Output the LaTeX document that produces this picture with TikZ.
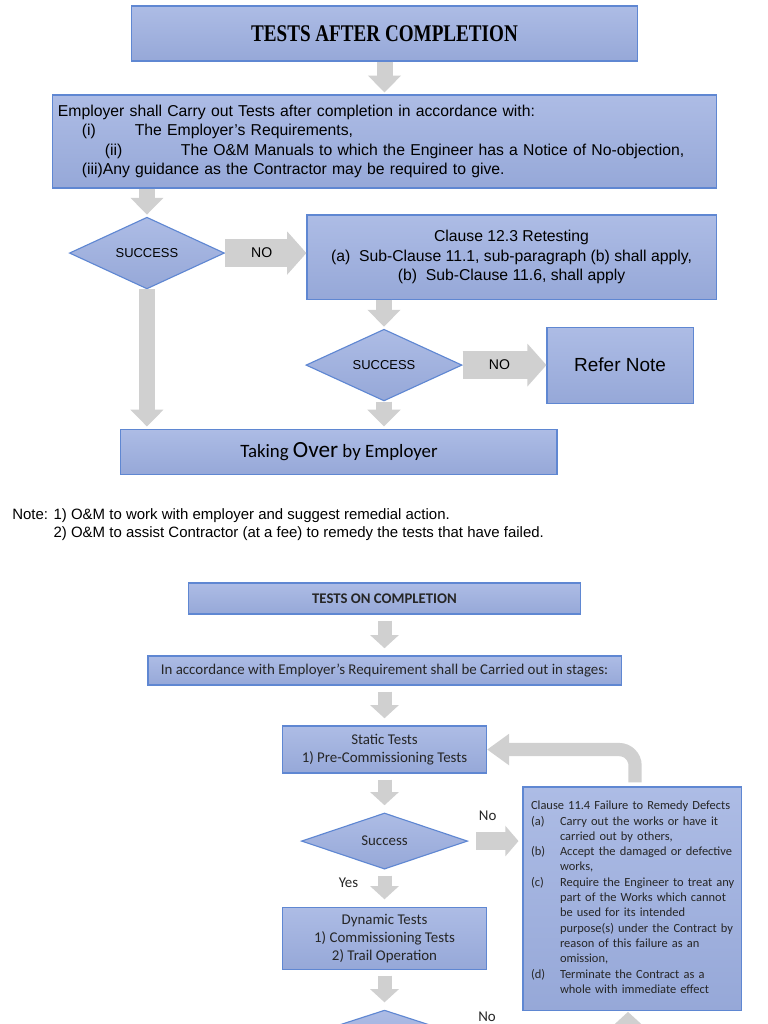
\documentclass[tikz,border=0pt]{standalone}
\usepackage{fontspec}
\setmainfont{Liberation Sans}
\newfontfamily\calib{Carlito}
\newfontfamily\titlefont[FakeStretch=0.8]{Liberation Serif}
\usepackage{xcolor}
\usepackage{tikz}
\usetikzlibrary{shapes.geometric,arrows.meta,positioning}
\definecolor{boxtop}{RGB}{173,188,229}
\definecolor{boxbottom}{RGB}{150,168,216}
\definecolor{boxline}{RGB}{95,135,210}
\definecolor{arrowgray}{RGB}{208,208,208}
\definecolor{darktext}{RGB}{38,38,38}
\tikzstyle{block} = [rectangle, draw=boxline, line width=0.8pt,
    top color=boxtop, bottom color=boxbottom, inner sep=0pt]
\tikzstyle{decision} = [diamond, draw=boxline, line width=0.8pt,
    top color=boxtop, bottom color=boxbottom, inner sep=0pt]
\tikzstyle{arialtext} = [font=\fontsize{11.2}{13.9}\selectfont]
\tikzstyle{calibtext} = [font=\calib\fontsize{10.6}{12.8}\selectfont, text=darktext]
\tikzstyle{downarrow} = [draw=arrowgray, line width=0.4cm, shorten >=0.05cm,
    -{Triangle[length=0.42cm,width=0.8cm]}]
\tikzstyle{noarrow} = [draw=arrowgray, line width=0.72cm,
    -{Triangle[length=0.48cm,width=1.05cm]}]
\tikzstyle{thinarrow} = [draw=arrowgray, line width=0.35cm, shorten <=0.15cm, shorten >=0.18cm,
    -{Triangle[length=0.33cm,width=0.7cm]}]
\tikzstyle{sidearrow} = [draw=arrowgray, line width=0.45cm, shorten <=0.2cm, shorten >=0.1cm,
    -{Triangle[length=0.33cm,width=0.75cm]}]
\tikzstyle{backarrow} = [draw=arrowgray, line width=0.33cm, rounded corners=0.4cm, shorten <=0.1cm,
    -{Triangle[length=0.55cm,width=0.75cm]}]

\begin{document}
\begin{tikzpicture}[x=0.025cm, y=-0.025cm]
			\useasboundingbox (0,0) rectangle (768,1024);
			\clip (0,0) rectangle (768,1024);
			\fill [white] (0,0) rectangle (768,1024);
			% Tests after completion
			\node [block, minimum width=12.625cm, minimum height=1.375cm, font=\titlefont\bfseries\fontsize{17}{20}\selectfont] (afterTitle) at (384.5,33.5) {TESTS AFTER COMPLETION};
			\node [block, below of=afterTitle, node distance=2.7cm, minimum width=16.575cm, minimum height=2.325cm, text width=16.325cm, align=left, arialtext] (afterIntro) {Employer shall Carry out Tests after completion in accordance with:\\
				\hspace*{17pt}\makebox[37.7pt][l]{(i)}The Employer’s Requirements,\\
				\hspace*{33.4pt}\makebox[54.1pt][l]{(ii)}The O\&M Manuals to which the Engineer has a Notice of No-objection,\\
				\hspace*{17pt}(iii)Any guidance as the Contractor may be required to give.};
			\node [decision, below of=afterIntro, node distance=2.7875cm, xshift=-5.9375cm, minimum width=3.875cm, minimum height=1.6cm, font=\fontsize{9.2}{11}\selectfont] (afterSuccess) {SUCCESS};
			\node [block, right of=afterSuccess, node distance=9.1125cm, yshift=-0.1cm, minimum width=10.225cm, minimum height=2.1cm, align=center, arialtext] (retesting) {Clause 12.3 Retesting\\(a)\ \ Sub-Clause 11.1, sub-paragraph (b) shall apply,\\(b)\ \ Sub-Clause 11.6, shall apply};
			\node [decision, below of=retesting, node distance=2.7cm, xshift=-3.1875cm, minimum width=3.9cm, minimum height=1.6cm, font=\fontsize{9.2}{11}\selectfont] (retestSuccess) {SUCCESS};
			\node [block, right of=retestSuccess, node distance=5.9cm, minimum width=3.65cm, minimum height=1.9cm, font=\fontsize{13.5}{16}\selectfont] (referNote) {Refer Note};
			\node [block, below of=retestSuccess, node distance=2.1625cm, xshift=-1.125cm, minimum width=10.9cm, minimum height=1.125cm, font=\calib\fontsize{13.4}{16}\selectfont] (takingOver) {Taking {\fontsize{16.5}{18}\selectfont Over} by Employer};
			\node [anchor=west, align=left, inner sep=0pt, font=\fontsize{10.65}{12.8}\selectfont] (note) at (12,525) {Note: 1) O\&M to work with employer and suggest remedial action.\\\phantom{Note: }2) O\&M to assist Contractor (at a fee) to remedy the tests that have failed.};
			\draw [downarrow] (afterTitle) -- (afterIntro);
			\draw [downarrow] (afterSuccess.north |- afterIntro.south) -- (afterSuccess);
			\draw [noarrow] (afterSuccess) -- (afterSuccess -| retesting.west) node [pos=0.45, font=\fontsize{10}{12}\selectfont] {NO};
			\draw [downarrow] (afterSuccess) -- (afterSuccess |- takingOver.north);
			\draw [downarrow] (retestSuccess |- retesting.south) -- (retestSuccess);
			\draw [noarrow] (retestSuccess) -- (referNote) node [pos=0.44, font=\fontsize{10}{12}\selectfont] {NO};
			\draw [downarrow] (retestSuccess) -- (retestSuccess |- takingOver.north);
			% Tests on completion
			\node [block, minimum width=9.8cm, minimum height=0.775cm, font=\calib\bfseries\fontsize{10.5}{12}\selectfont, text=darktext] (onTitle) at (384.5,598.5) {TESTS ON COMPLETION};
			\node [block, below of=onTitle, node distance=1.8cm, minimum width=11.825cm, minimum height=0.725cm, calibtext] (stages) {In accordance with Employer’s Requirement shall be Carried out in stages:};
			\node [block, below of=stages, node distance=1.975cm, minimum width=5.1cm, minimum height=1.175cm, align=center, calibtext] (staticTests) {Static Tests\\1) Pre-Commissioning Tests};
			\node [decision, below of=staticTests, node distance=2.2875cm, minimum width=4.15cm, minimum height=1.35cm, calibtext] (staticSuccess) {Success};
			\node [block, below of=staticSuccess, node distance=2.425cm, minimum width=5.1cm, minimum height=1.55cm, align=center, calibtext] (dynamicTests) {Dynamic Tests\\1) Commissioning Tests\\2) Trail Operation};
			\node [decision, below of=dynamicTests, node distance=2.475cm, minimum width=4.15cm, minimum height=1.35cm] (dynamicSuccess) {};
			\node [block, right of=staticSuccess, node distance=6.1875cm, yshift=-1.4375cm, minimum width=5.45cm, minimum height=5.575cm, text width=5.05cm, align=left, font=\calib\fontsize{8.85}{10.9}\selectfont, text=darktext] (remedyDefects) {\begin{tabular}{@{}p{0.725cm}@{}l@{}}
				\multicolumn{2}{@{}l@{}}{Clause 11.4 Failure to Remedy Defects}\\
				(a) & Carry out the works or have it\\
				    & carried out by others,\\
				(b) & Accept the damaged or defective\\
				    & works,\\
				(c) & Require the Engineer to treat any\\
				    & part of the Works which cannot\\
				    & be used for its intended\\
				    & purpose(s) under the Contract by\\
				    & reason of this failure as an\\
				    & omission,\\
				(d) & Terminate the Contract as a\\
				    & whole with immediate effect
				\end{tabular}};
			\node [calibtext] (dynamicNo) at ([xshift=2.5625cm, yshift=0.5cm]dynamicSuccess.center) {No};
			\coordinate (remedyFeed) at (628,1045);
			\draw [thinarrow] (onTitle) -- (stages);
			\draw [thinarrow] (stages) -- (staticTests);
			\draw [thinarrow] (staticTests) -- (staticSuccess);
			\draw [thinarrow] (staticSuccess) -- (dynamicTests) node [pos=0.36, xshift=-0.9cm, calibtext] {Yes};
			\draw [thinarrow] (dynamicTests) -- (dynamicSuccess);
			\draw [sidearrow] (staticSuccess) -- (staticSuccess -| remedyDefects.west) node [pos=0.36, yshift=0.62cm, calibtext] {No};
			\draw [backarrow] ([xshift=0.075cm]remedyDefects.north) |- (staticTests.east);
			\draw [thinarrow, shorten <=0pt, shorten >=0.03cm] (remedyFeed) -- (remedyFeed |- remedyDefects.south);
	\end{tikzpicture}
\end{document}
